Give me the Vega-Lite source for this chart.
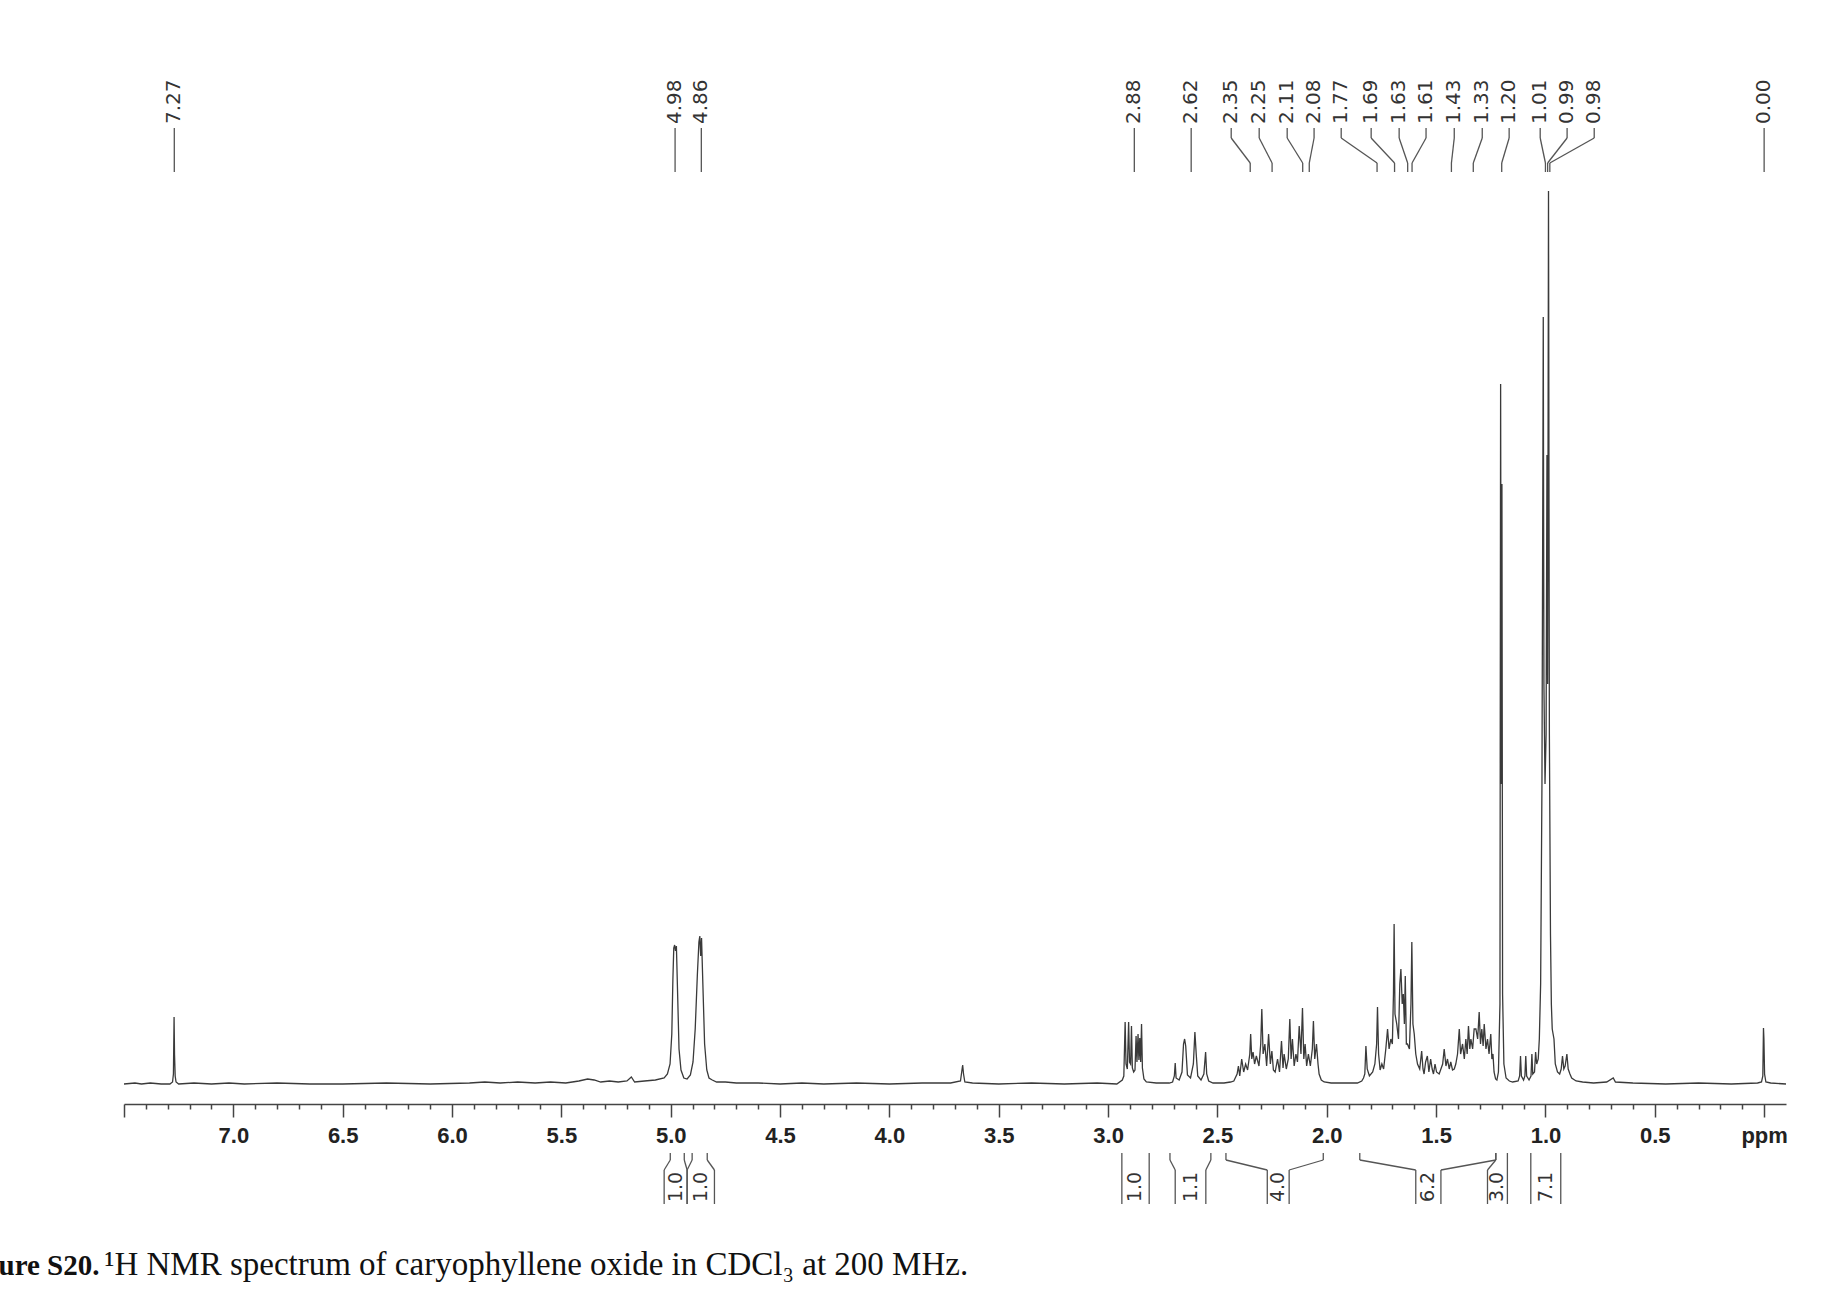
{
  "$schema": "https://vega.github.io/schema/vega-lite/v6.json",
  "width": 1662,
  "height": 1044,
  "autosize": {"type": "none"},
  "padding": {"left": 124, "top": 60, "right": 48, "bottom": 209},
  "background": "white",
  "config": {"view": {"stroke": null}},
  "resolve": {"axis": {"x": "independent", "y": "independent"}},
  "datasets": {
    "spectrum": [
      {"ppm": 7.5, "h": 0}, {"ppm": 7.45, "h": 1}, {"ppm": 7.42, "h": 0}, {"ppm": 7.38, "h": 1}, {"ppm": 7.33, "h": 0},
      {"ppm": 7.29, "h": 0}, {"ppm": 7.278, "h": 2}, {"ppm": 7.274, "h": 10}, {"ppm": 7.271, "h": 67}, {"ppm": 7.269, "h": 30},
      {"ppm": 7.266, "h": 8}, {"ppm": 7.262, "h": 2}, {"ppm": 7.25, "h": 0}, {"ppm": 7.18, "h": 1}, {"ppm": 7.1, "h": 0},
      {"ppm": 7.02, "h": 1}, {"ppm": 6.95, "h": 0}, {"ppm": 6.8, "h": 1}, {"ppm": 6.65, "h": 0}, {"ppm": 6.5, "h": 0},
      {"ppm": 6.3, "h": 1}, {"ppm": 6.1, "h": 0}, {"ppm": 5.92, "h": 1}, {"ppm": 5.85, "h": 2}, {"ppm": 5.78, "h": 1},
      {"ppm": 5.7, "h": 2}, {"ppm": 5.62, "h": 1}, {"ppm": 5.55, "h": 2}, {"ppm": 5.48, "h": 1}, {"ppm": 5.42, "h": 3},
      {"ppm": 5.38, "h": 5}, {"ppm": 5.35, "h": 4}, {"ppm": 5.32, "h": 2}, {"ppm": 5.28, "h": 3}, {"ppm": 5.24, "h": 2},
      {"ppm": 5.2, "h": 3}, {"ppm": 5.18, "h": 7}, {"ppm": 5.165, "h": 2}, {"ppm": 5.12, "h": 3}, {"ppm": 5.07, "h": 4},
      {"ppm": 5.03, "h": 6}, {"ppm": 5.015, "h": 10}, {"ppm": 5.003, "h": 20}, {"ppm": 4.995, "h": 50}, {"ppm": 4.99, "h": 105},
      {"ppm": 4.986, "h": 136}, {"ppm": 4.982, "h": 139}, {"ppm": 4.978, "h": 133}, {"ppm": 4.974, "h": 138}, {"ppm": 4.969, "h": 95},
      {"ppm": 4.962, "h": 35}, {"ppm": 4.953, "h": 14}, {"ppm": 4.94, "h": 6}, {"ppm": 4.925, "h": 5}, {"ppm": 4.91, "h": 9},
      {"ppm": 4.898, "h": 22}, {"ppm": 4.888, "h": 55}, {"ppm": 4.878, "h": 110}, {"ppm": 4.871, "h": 142}, {"ppm": 4.867, "h": 148},
      {"ppm": 4.863, "h": 128}, {"ppm": 4.859, "h": 146}, {"ppm": 4.853, "h": 100}, {"ppm": 4.845, "h": 40}, {"ppm": 4.835, "h": 14},
      {"ppm": 4.825, "h": 6}, {"ppm": 4.81, "h": 4}, {"ppm": 4.79, "h": 2}, {"ppm": 4.75, "h": 2}, {"ppm": 4.7, "h": 1},
      {"ppm": 4.6, "h": 1}, {"ppm": 4.5, "h": 0}, {"ppm": 4.4, "h": 1}, {"ppm": 4.3, "h": 0}, {"ppm": 4.15, "h": 1},
      {"ppm": 4.0, "h": 0}, {"ppm": 3.85, "h": 1}, {"ppm": 3.72, "h": 1}, {"ppm": 3.675, "h": 3}, {"ppm": 3.665, "h": 19},
      {"ppm": 3.661, "h": 10}, {"ppm": 3.655, "h": 2}, {"ppm": 3.62, "h": 1}, {"ppm": 3.5, "h": 0}, {"ppm": 3.35, "h": 1},
      {"ppm": 3.2, "h": 0}, {"ppm": 3.05, "h": 1}, {"ppm": 2.96, "h": 0}, {"ppm": 2.935, "h": 4}, {"ppm": 2.928, "h": 8},
      {"ppm": 2.922, "h": 62}, {"ppm": 2.918, "h": 20}, {"ppm": 2.912, "h": 15}, {"ppm": 2.906, "h": 62}, {"ppm": 2.902, "h": 22},
      {"ppm": 2.897, "h": 20}, {"ppm": 2.893, "h": 58}, {"ppm": 2.889, "h": 16}, {"ppm": 2.883, "h": 12}, {"ppm": 2.877, "h": 14},
      {"ppm": 2.872, "h": 48}, {"ppm": 2.868, "h": 22}, {"ppm": 2.863, "h": 50}, {"ppm": 2.859, "h": 24}, {"ppm": 2.855, "h": 46},
      {"ppm": 2.851, "h": 22}, {"ppm": 2.847, "h": 60}, {"ppm": 2.843, "h": 16}, {"ppm": 2.836, "h": 5}, {"ppm": 2.825, "h": 2},
      {"ppm": 2.78, "h": 1}, {"ppm": 2.72, "h": 1}, {"ppm": 2.705, "h": 2}, {"ppm": 2.697, "h": 8}, {"ppm": 2.693, "h": 21},
      {"ppm": 2.689, "h": 6}, {"ppm": 2.675, "h": 4}, {"ppm": 2.662, "h": 12}, {"ppm": 2.655, "h": 40}, {"ppm": 2.65, "h": 45},
      {"ppm": 2.645, "h": 38}, {"ppm": 2.637, "h": 9}, {"ppm": 2.623, "h": 6}, {"ppm": 2.61, "h": 20}, {"ppm": 2.603, "h": 52},
      {"ppm": 2.597, "h": 30}, {"ppm": 2.59, "h": 8}, {"ppm": 2.575, "h": 4}, {"ppm": 2.562, "h": 10}, {"ppm": 2.554, "h": 32},
      {"ppm": 2.549, "h": 10}, {"ppm": 2.54, "h": 3}, {"ppm": 2.52, "h": 1}, {"ppm": 2.47, "h": 1}, {"ppm": 2.44, "h": 2},
      {"ppm": 2.425, "h": 3}, {"ppm": 2.41, "h": 10}, {"ppm": 2.404, "h": 18}, {"ppm": 2.398, "h": 8}, {"ppm": 2.389, "h": 25},
      {"ppm": 2.38, "h": 12}, {"ppm": 2.371, "h": 20}, {"ppm": 2.362, "h": 14}, {"ppm": 2.352, "h": 30}, {"ppm": 2.348, "h": 50},
      {"ppm": 2.343, "h": 25}, {"ppm": 2.337, "h": 32}, {"ppm": 2.33, "h": 20}, {"ppm": 2.322, "h": 28}, {"ppm": 2.31, "h": 18},
      {"ppm": 2.302, "h": 40}, {"ppm": 2.297, "h": 75}, {"ppm": 2.291, "h": 30}, {"ppm": 2.283, "h": 40}, {"ppm": 2.275, "h": 18},
      {"ppm": 2.266, "h": 50}, {"ppm": 2.258, "h": 20}, {"ppm": 2.251, "h": 33}, {"ppm": 2.244, "h": 14}, {"ppm": 2.236, "h": 12},
      {"ppm": 2.225, "h": 25}, {"ppm": 2.216, "h": 12}, {"ppm": 2.207, "h": 43}, {"ppm": 2.2, "h": 16}, {"ppm": 2.195, "h": 30},
      {"ppm": 2.185, "h": 15}, {"ppm": 2.176, "h": 25}, {"ppm": 2.169, "h": 65}, {"ppm": 2.163, "h": 25}, {"ppm": 2.157, "h": 45},
      {"ppm": 2.149, "h": 18}, {"ppm": 2.141, "h": 30}, {"ppm": 2.134, "h": 22}, {"ppm": 2.126, "h": 58}, {"ppm": 2.118, "h": 30},
      {"ppm": 2.111, "h": 76}, {"ppm": 2.105, "h": 25}, {"ppm": 2.099, "h": 40}, {"ppm": 2.092, "h": 18}, {"ppm": 2.084, "h": 30},
      {"ppm": 2.075, "h": 18}, {"ppm": 2.066, "h": 35}, {"ppm": 2.061, "h": 63}, {"ppm": 2.055, "h": 25}, {"ppm": 2.047, "h": 40},
      {"ppm": 2.04, "h": 20}, {"ppm": 2.035, "h": 10}, {"ppm": 2.025, "h": 4}, {"ppm": 2.012, "h": 2}, {"ppm": 1.98, "h": 1},
      {"ppm": 1.92, "h": 1}, {"ppm": 1.86, "h": 1}, {"ppm": 1.84, "h": 3}, {"ppm": 1.832, "h": 6}, {"ppm": 1.826, "h": 10},
      {"ppm": 1.821, "h": 38}, {"ppm": 1.815, "h": 15}, {"ppm": 1.805, "h": 8}, {"ppm": 1.79, "h": 12}, {"ppm": 1.78, "h": 20},
      {"ppm": 1.772, "h": 40}, {"ppm": 1.768, "h": 77}, {"ppm": 1.763, "h": 30}, {"ppm": 1.756, "h": 14}, {"ppm": 1.748, "h": 20},
      {"ppm": 1.74, "h": 15}, {"ppm": 1.73, "h": 35}, {"ppm": 1.722, "h": 55}, {"ppm": 1.715, "h": 35}, {"ppm": 1.707, "h": 45},
      {"ppm": 1.7, "h": 40}, {"ppm": 1.695, "h": 90}, {"ppm": 1.692, "h": 160}, {"ppm": 1.688, "h": 70}, {"ppm": 1.68, "h": 60},
      {"ppm": 1.672, "h": 45}, {"ppm": 1.666, "h": 100}, {"ppm": 1.661, "h": 115}, {"ppm": 1.655, "h": 80}, {"ppm": 1.65, "h": 90},
      {"ppm": 1.645, "h": 60}, {"ppm": 1.641, "h": 108}, {"ppm": 1.636, "h": 40}, {"ppm": 1.631, "h": 40}, {"ppm": 1.622, "h": 35},
      {"ppm": 1.615, "h": 80}, {"ppm": 1.611, "h": 142}, {"ppm": 1.606, "h": 60}, {"ppm": 1.6, "h": 50}, {"ppm": 1.593, "h": 30},
      {"ppm": 1.585, "h": 20}, {"ppm": 1.575, "h": 15}, {"ppm": 1.566, "h": 33}, {"ppm": 1.56, "h": 15}, {"ppm": 1.555, "h": 10},
      {"ppm": 1.548, "h": 22}, {"ppm": 1.54, "h": 28}, {"ppm": 1.533, "h": 12}, {"ppm": 1.525, "h": 25}, {"ppm": 1.518, "h": 15},
      {"ppm": 1.512, "h": 10}, {"ppm": 1.505, "h": 20}, {"ppm": 1.498, "h": 12}, {"ppm": 1.486, "h": 10}, {"ppm": 1.478, "h": 15},
      {"ppm": 1.47, "h": 20}, {"ppm": 1.463, "h": 35}, {"ppm": 1.455, "h": 18}, {"ppm": 1.448, "h": 25}, {"ppm": 1.44, "h": 15},
      {"ppm": 1.433, "h": 22}, {"ppm": 1.425, "h": 14}, {"ppm": 1.417, "h": 15}, {"ppm": 1.41, "h": 20}, {"ppm": 1.402, "h": 30},
      {"ppm": 1.394, "h": 55}, {"ppm": 1.388, "h": 30}, {"ppm": 1.379, "h": 40}, {"ppm": 1.371, "h": 25}, {"ppm": 1.364, "h": 45},
      {"ppm": 1.358, "h": 30}, {"ppm": 1.352, "h": 58}, {"ppm": 1.346, "h": 35}, {"ppm": 1.341, "h": 45}, {"ppm": 1.333, "h": 35},
      {"ppm": 1.326, "h": 55}, {"ppm": 1.318, "h": 55}, {"ppm": 1.31, "h": 45}, {"ppm": 1.303, "h": 72}, {"ppm": 1.297, "h": 40},
      {"ppm": 1.291, "h": 55}, {"ppm": 1.285, "h": 38}, {"ppm": 1.28, "h": 60}, {"ppm": 1.272, "h": 35}, {"ppm": 1.265, "h": 45},
      {"ppm": 1.258, "h": 30}, {"ppm": 1.25, "h": 50}, {"ppm": 1.245, "h": 25}, {"ppm": 1.24, "h": 30}, {"ppm": 1.235, "h": 12},
      {"ppm": 1.228, "h": 5}, {"ppm": 1.222, "h": 4}, {"ppm": 1.215, "h": 12}, {"ppm": 1.208, "h": 80}, {"ppm": 1.205, "h": 700},
      {"ppm": 1.202, "h": 300}, {"ppm": 1.199, "h": 600}, {"ppm": 1.196, "h": 90}, {"ppm": 1.19, "h": 20}, {"ppm": 1.18, "h": 6},
      {"ppm": 1.165, "h": 3}, {"ppm": 1.15, "h": 2}, {"ppm": 1.125, "h": 3}, {"ppm": 1.118, "h": 8}, {"ppm": 1.114, "h": 28},
      {"ppm": 1.11, "h": 8}, {"ppm": 1.1, "h": 4}, {"ppm": 1.094, "h": 8}, {"ppm": 1.09, "h": 28}, {"ppm": 1.086, "h": 8},
      {"ppm": 1.075, "h": 4}, {"ppm": 1.066, "h": 8}, {"ppm": 1.062, "h": 30}, {"ppm": 1.058, "h": 10}, {"ppm": 1.05, "h": 12},
      {"ppm": 1.045, "h": 32}, {"ppm": 1.04, "h": 20}, {"ppm": 1.033, "h": 25}, {"ppm": 1.028, "h": 45}, {"ppm": 1.022, "h": 100},
      {"ppm": 1.016, "h": 300}, {"ppm": 1.012, "h": 600}, {"ppm": 1.01, "h": 767}, {"ppm": 1.007, "h": 400}, {"ppm": 1.002, "h": 300},
      {"ppm": 0.997, "h": 350}, {"ppm": 0.993, "h": 629}, {"ppm": 0.99, "h": 400}, {"ppm": 0.986, "h": 893}, {"ppm": 0.982, "h": 350},
      {"ppm": 0.977, "h": 150}, {"ppm": 0.973, "h": 80}, {"ppm": 0.969, "h": 55}, {"ppm": 0.965, "h": 50}, {"ppm": 0.961, "h": 45},
      {"ppm": 0.955, "h": 20}, {"ppm": 0.945, "h": 12}, {"ppm": 0.935, "h": 10}, {"ppm": 0.928, "h": 15}, {"ppm": 0.922, "h": 28},
      {"ppm": 0.916, "h": 15}, {"ppm": 0.91, "h": 18}, {"ppm": 0.902, "h": 30}, {"ppm": 0.896, "h": 15}, {"ppm": 0.888, "h": 10},
      {"ppm": 0.88, "h": 6}, {"ppm": 0.86, "h": 3}, {"ppm": 0.83, "h": 2}, {"ppm": 0.78, "h": 1}, {"ppm": 0.72, "h": 2},
      {"ppm": 0.69, "h": 6}, {"ppm": 0.68, "h": 2}, {"ppm": 0.6, "h": 1}, {"ppm": 0.45, "h": 0}, {"ppm": 0.3, "h": 1},
      {"ppm": 0.15, "h": 0}, {"ppm": 0.03, "h": 1}, {"ppm": 0.012, "h": 2}, {"ppm": 0.006, "h": 8}, {"ppm": 0.003, "h": 56},
      {"ppm": 0.001, "h": 45}, {"ppm": -0.002, "h": 10}, {"ppm": -0.008, "h": 2}, {"ppm": -0.03, "h": 1}, {"ppm": -0.1, "h": 0}
    ],
    "peaks": [
      {"label": "7.27", "lx": 7.27, "px": 7.27}, {"label": "4.98", "lx": 4.98, "px": 4.98},
      {"label": "4.86", "lx": 4.86, "px": 4.86}, {"label": "2.88", "lx": 2.88, "px": 2.88},
      {"label": "2.62", "lx": 2.62, "px": 2.62}, {"label": "2.35", "lx": 2.437, "px": 2.35},
      {"label": "2.25", "lx": 2.309, "px": 2.25}, {"label": "2.11", "lx": 2.181, "px": 2.11},
      {"label": "2.08", "lx": 2.058, "px": 2.08}, {"label": "1.77", "lx": 1.934, "px": 1.77},
      {"label": "1.69", "lx": 1.797, "px": 1.69}, {"label": "1.63", "lx": 1.669, "px": 1.63},
      {"label": "1.61", "lx": 1.546, "px": 1.61}, {"label": "1.43", "lx": 1.417, "px": 1.43},
      {"label": "1.33", "lx": 1.289, "px": 1.33}, {"label": "1.20", "lx": 1.166, "px": 1.2},
      {"label": "1.01", "lx": 1.024, "px": 1.0}, {"label": "0.99", "lx": 0.901, "px": 0.99},
      {"label": "0.98", "lx": 0.777, "px": 0.98}, {"label": "0.00", "lx": 0.0, "px": 0.0}
    ],
    "integrals": [
      {"label": "1.0", "s": 5.002, "e": 4.938, "bl": 5.03, "br": 4.925, "lx": 4.978},
      {"label": "1.0", "s": 4.902, "e": 4.833, "bl": 4.925, "br": 4.8, "lx": 4.862},
      {"label": "1.0", "s": 2.937, "e": 2.812, "bl": 2.937, "br": 2.812, "lx": 2.875},
      {"label": "1.1", "s": 2.717, "e": 2.53, "bl": 2.693, "br": 2.553, "lx": 2.623},
      {"label": "4.0", "s": 2.461, "e": 2.016, "bl": 2.272, "br": 2.172, "lx": 2.222},
      {"label": "6.2", "s": 1.849, "e": 1.227, "bl": 1.593, "br": 1.478, "lx": 1.535},
      {"label": "3.0", "s": 1.227, "e": 1.174, "bl": 1.265, "br": 1.174, "lx": 1.22},
      {"label": "7.1", "s": 1.067, "e": 0.93, "bl": 1.067, "br": 0.93, "lx": 0.998}
    ]
  },
  "layer": [
    {
      "data": {"name": "spectrum"},
      "mark": {"type": "line", "color": "#3a3a3a", "strokeWidth": 1.3, "clip": false},
      "encoding": {
        "x": {
          "field": "ppm", "type": "quantitative",
          "scale": {"domain": [-0.1, 7.5], "reverse": true, "nice": false, "zero": false},
          "axis": {
            "orient": "bottom",
            "values": [7.5, 7.4, 7.3, 7.2, 7.1, 7.0, 6.9, 6.8, 6.7, 6.6, 6.5, 6.4, 6.3, 6.2, 6.1, 6.0, 5.9, 5.8, 5.7, 5.6, 5.5, 5.4, 5.3, 5.2, 5.1, 5.0, 4.9, 4.8, 4.7, 4.6, 4.5, 4.4, 4.3, 4.2, 4.1, 4.0, 3.9, 3.8, 3.7, 3.6, 3.5, 3.4, 3.3, 3.2, 3.1, 3.0, 2.9, 2.8, 2.7, 2.6, 2.5, 2.4, 2.3, 2.2, 2.1, 2.0, 1.9, 1.8, 1.7, 1.6, 1.5, 1.4, 1.3, 1.2, 1.1, 1.0, 0.9, 0.8, 0.7, 0.6, 0.5, 0.4, 0.3, 0.2, 0.1, 0.0],
            "labelExpr": "datum.value == 0 ? 'ppm' : ((datum.value > 7.45 || abs(datum.value * 2 - round(datum.value * 2)) > 0.01) ? '' : format(datum.value, '.1f'))",
            "labelOverlap": false,
            "labelFont": "Liberation Sans",
            "labelFontWeight": "bold",
            "labelFontSize": 22,
            "labelColor": "#222222",
            "labelPadding": 8,
            "tickSize": {"condition": {"test": "abs(datum.value * 2 - round(datum.value * 2)) < 0.01", "value": 13}, "value": 5},
            "tickColor": "#444444",
            "tickWidth": 1.5,
            "domainColor": "#444444",
            "domainWidth": 1.5,
            "grid": false,
            "title": "¹H NMR spectrum of caryophyllene oxide in CDCl₃ at 200 MHz.",
            "titleX": -20,
            "titleY": 170,
            "titleAnchor": "start",
            "titleAlign": "left",
            "titleBaseline": "alphabetic",
            "titleAngle": 0,
            "titleFont": "Liberation Serif",
            "titleFontSize": 33,
            "titleFontWeight": "normal",
            "titleColor": "#111111"
          }
        },
        "y": {
          "field": "h", "type": "quantitative",
          "scale": {"domain": [-20, 1024], "nice": false, "zero": false},
          "axis": {
            "orient": "left",
            "title": "ure S20.",
            "titleX": -126,
            "titleY": 1214,
            "titleAngle": 0,
            "titleAnchor": "start",
            "titleAlign": "left",
            "titleBaseline": "alphabetic",
            "titleFont": "Liberation Serif",
            "titleFontSize": 29,
            "titleFontWeight": "bold",
            "titleColor": "#111111",
            "domain": false, "ticks": false, "labels": false, "grid": false
          }
        }
      }
    },
    {
      "data": {"name": "peaks"},
      "mark": {"type": "rule", "color": "#555555", "strokeWidth": 1.3, "clip": false},
      "encoding": {
        "x": {"field": "lx", "type": "quantitative", "axis": null},
        "y": {"datum": 956, "type": "quantitative", "axis": null},
        "y2": {"datum": 946}
      }
    },
    {
      "data": {"name": "peaks"},
      "mark": {"type": "rule", "color": "#555555", "strokeWidth": 1.3, "clip": false},
      "encoding": {
        "x": {"field": "lx", "type": "quantitative", "axis": null},
        "x2": {"field": "px"},
        "y": {"datum": 946, "type": "quantitative", "axis": null},
        "y2": {"datum": 921}
      }
    },
    {
      "data": {"name": "peaks"},
      "mark": {"type": "rule", "color": "#555555", "strokeWidth": 1.3, "clip": false},
      "encoding": {
        "x": {"field": "px", "type": "quantitative", "axis": null},
        "y": {"datum": 921, "type": "quantitative", "axis": null},
        "y2": {"datum": 912}
      }
    },
    {
      "data": {"name": "peaks"},
      "mark": {"type": "text", "angle": 270, "align": "left", "baseline": "middle", "font": "DejaVu Sans", "fontSize": 20, "color": "#333333", "clip": false},
      "encoding": {
        "x": {"field": "lx", "type": "quantitative", "axis": null},
        "y": {"datum": 960, "type": "quantitative", "axis": null},
        "text": {"field": "label"}
      }
    },
    {
      "data": {"name": "integrals"},
      "mark": {"type": "rule", "color": "#555555", "strokeWidth": 1.3, "clip": false},
      "encoding": {
        "x": {"field": "s", "type": "quantitative", "axis": null},
        "y": {"datum": -69, "type": "quantitative", "axis": null},
        "y2": {"datum": -76}
      }
    },
    {
      "data": {"name": "integrals"},
      "mark": {"type": "rule", "color": "#555555", "strokeWidth": 1.3, "clip": false},
      "encoding": {
        "x": {"field": "s", "type": "quantitative", "axis": null},
        "x2": {"field": "bl"},
        "y": {"datum": -76, "type": "quantitative", "axis": null},
        "y2": {"datum": -86}
      }
    },
    {
      "data": {"name": "integrals"},
      "mark": {"type": "rule", "color": "#555555", "strokeWidth": 1.3, "clip": false},
      "encoding": {
        "x": {"field": "bl", "type": "quantitative", "axis": null},
        "y": {"datum": -86, "type": "quantitative", "axis": null},
        "y2": {"datum": -120}
      }
    },
    {
      "data": {"name": "integrals"},
      "mark": {"type": "rule", "color": "#555555", "strokeWidth": 1.3, "clip": false},
      "encoding": {
        "x": {"field": "e", "type": "quantitative", "axis": null},
        "y": {"datum": -69, "type": "quantitative", "axis": null},
        "y2": {"datum": -76}
      }
    },
    {
      "data": {"name": "integrals"},
      "mark": {"type": "rule", "color": "#555555", "strokeWidth": 1.3, "clip": false},
      "encoding": {
        "x": {"field": "e", "type": "quantitative", "axis": null},
        "x2": {"field": "br"},
        "y": {"datum": -76, "type": "quantitative", "axis": null},
        "y2": {"datum": -86}
      }
    },
    {
      "data": {"name": "integrals"},
      "mark": {"type": "rule", "color": "#555555", "strokeWidth": 1.3, "clip": false},
      "encoding": {
        "x": {"field": "br", "type": "quantitative", "axis": null},
        "y": {"datum": -86, "type": "quantitative", "axis": null},
        "y2": {"datum": -120}
      }
    },
    {
      "data": {"name": "integrals"},
      "mark": {"type": "text", "angle": 270, "align": "center", "baseline": "middle", "font": "DejaVu Sans", "fontSize": 19, "color": "#333333", "clip": false},
      "encoding": {
        "x": {"field": "lx", "type": "quantitative", "axis": null},
        "y": {"datum": -103, "type": "quantitative", "axis": null},
        "text": {"field": "label"}
      }
    }
  ]
}
